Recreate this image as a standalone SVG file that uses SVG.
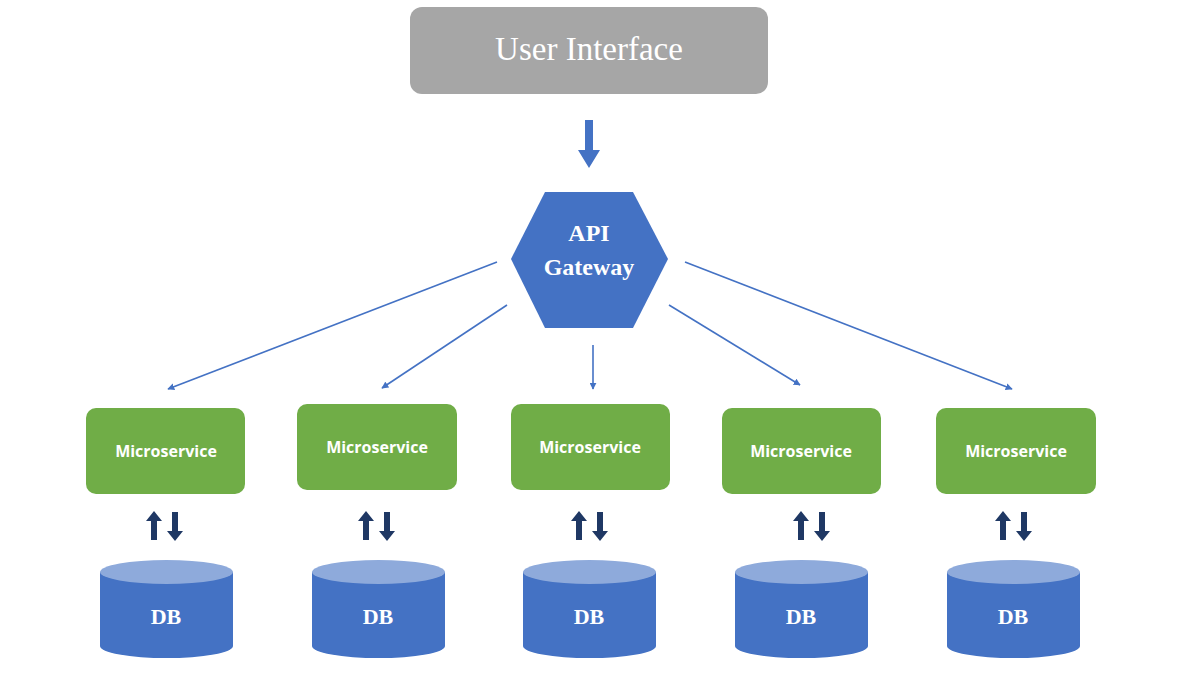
<svg xmlns="http://www.w3.org/2000/svg" width="1200" height="677" viewBox="0 0 1200 677">
<defs>
<style>
.ms{fill:#70ad47}
.mt{font-family:"Open Sans","Liberation Sans",sans-serif;font-weight:bold;font-size:16px;fill:#fff;text-anchor:middle}
.cyl{fill:#4472c4}
.top{fill:#8eaadb}
.db{font-family:"Liberation Serif",serif;font-weight:bold;font-size:22px;fill:#fff;text-anchor:middle}
.con{stroke:#4472c4;stroke-width:1.6;fill:none;marker-end:url(#ah)}
.ud{fill:#1f3864}
</style>
<marker id="ah" viewBox="0 0 10 10" refX="9" refY="5" markerWidth="7" markerHeight="7" orient="auto" markerUnits="userSpaceOnUse" ><path d="M0,0 L10,5 L0,10 z" fill="#4472c4"/></marker>
<g id="updown"><path class="ud" d="M-15,28 h6 v-19 h5 l-8,-10 l-8,10 h5 z"/><path class="ud" d="M6,0 h6 v19 h5 l-8,10 l-8,-10 h5 z"/></g>
</defs>
<rect width="1200" height="677" fill="#fff"/>
<g id="ui"><rect x="410" y="7" width="358" height="87" rx="12" fill="#a6a6a6"/><text x="589" y="60" font-family="Liberation Serif,serif" font-size="33" fill="#fff" text-anchor="middle">User Interface</text></g>
<g id="gateway"><polygon points="545,192 633,192 668,259 633,328 545,328 511,259" fill="#4472c4"/><text x="589" y="241" font-family="Liberation Serif,serif" font-size="24" font-weight="bold" fill="#fff" text-anchor="middle">API</text><text x="589" y="275" font-family="Liberation Serif,serif" font-size="24" font-weight="bold" fill="#fff" text-anchor="middle">Gateway</text></g>
<g id="connectors">
<path d="M585,120 h8 v30 h7 l-11,18 l-11,-18 h7 z" fill="#4472c4"/>
<line class="con" x1="497" y1="262" x2="168" y2="389"/>
<line class="con" x1="507" y1="305" x2="382" y2="388"/>
<line class="con" x1="593" y1="345" x2="593" y2="389"/>
<line class="con" x1="669" y1="305" x2="800" y2="385"/>
<line class="con" x1="685" y1="262" x2="1012" y2="389"/>
<use href="#updown" x="166" y="512"/>
<use href="#updown" x="378" y="512"/>
<use href="#updown" x="591" y="512"/>
<use href="#updown" x="813" y="512"/>
<use href="#updown" x="1015" y="512"/>
</g>
<g id="ms1"><rect class="ms" x="86" y="408" width="159" height="86" rx="10"/><text class="mt" x="166" y="457">Microservice</text></g>
<g id="ms2"><rect class="ms" x="297" y="404" width="160" height="86" rx="10"/><text class="mt" x="377" y="453">Microservice</text></g>
<g id="ms3"><rect class="ms" x="511" y="404" width="159" height="86" rx="10"/><text class="mt" x="590" y="453">Microservice</text></g>
<g id="ms4"><rect class="ms" x="722" y="408" width="159" height="86" rx="10"/><text class="mt" x="801" y="457">Microservice</text></g>
<g id="ms5"><rect class="ms" x="936" y="408" width="160" height="86" rx="10"/><text class="mt" x="1016" y="457">Microservice</text></g>
<g id="db1"><path class="cyl" d="M100,572 v74 a66,12 0 0 0 133,0 v-74 z"/><ellipse class="top" cx="166.5" cy="572" rx="66.5" ry="12"/><text class="db" x="166" y="624">DB</text></g>
<g id="db2"><path class="cyl" d="M312,572 v74 a66,12 0 0 0 133,0 v-74 z"/><ellipse class="top" cx="378.5" cy="572" rx="66.5" ry="12"/><text class="db" x="378" y="624">DB</text></g>
<g id="db3"><path class="cyl" d="M523,572 v74 a66,12 0 0 0 133,0 v-74 z"/><ellipse class="top" cx="589.5" cy="572" rx="66.5" ry="12"/><text class="db" x="589" y="624">DB</text></g>
<g id="db4"><path class="cyl" d="M735,572 v74 a66,12 0 0 0 133,0 v-74 z"/><ellipse class="top" cx="801.5" cy="572" rx="66.5" ry="12"/><text class="db" x="801" y="624">DB</text></g>
<g id="db5"><path class="cyl" d="M947,572 v74 a66,12 0 0 0 133,0 v-74 z"/><ellipse class="top" cx="1013.5" cy="572" rx="66.5" ry="12"/><text class="db" x="1013" y="624">DB</text></g>
</svg>
